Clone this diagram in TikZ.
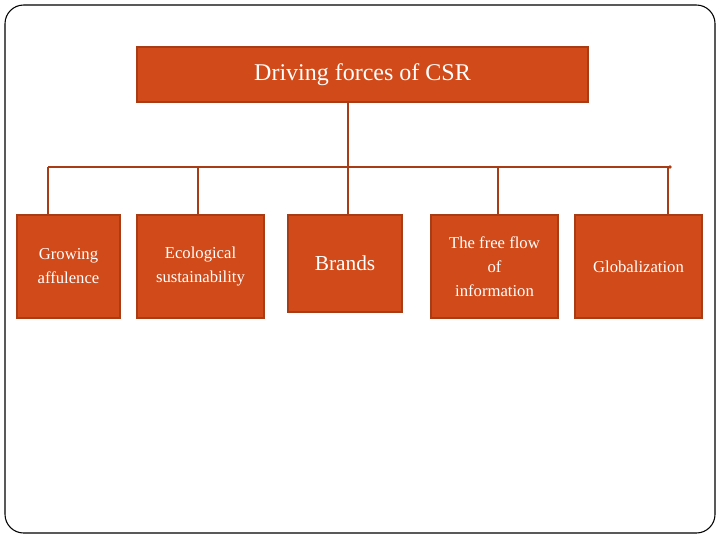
\documentclass[tikz,border=0pt]{standalone}
\usepackage{fontspec}
\setmainfont{Liberation Serif}
\begin{document}
\begin{tikzpicture}[x=0.75pt,y=-0.75pt,
  box/.style={draw=orangebd,fill=orangef,line width=1.2pt,text=white,align=center,inner sep=0pt},
  ln/.style={draw=orangebd,line width=1pt}]
\definecolor{orangef}{HTML}{D14A19}
\definecolor{orangebd}{HTML}{A83C14}
\useasboundingbox (0,0) rectangle (720,540);
\draw[line width=0.8pt,rounded corners=14pt] (5,5) rectangle (715,533);
\node[box,minimum width=451*0.75pt,minimum height=55*0.75pt,font=\fontsize{18}{21}\selectfont] (t) at (362.5,74.5) {Driving forces of CSR};
\node[box,minimum width=103*0.75pt,minimum height=103*0.75pt,font=\fontsize{12.5}{18}\selectfont] (b1) at (68.5,266.5) {Growing\\affulence};
\node[box,minimum width=127*0.75pt,minimum height=103*0.75pt,font=\fontsize{12.5}{18}\selectfont] (b2) at (200.5,266.5) {Ecological\\sustainability};
\node[box,minimum width=114*0.75pt,minimum height=97*0.75pt,font=\fontsize{16}{19}\selectfont] (b3) at (345,263.5) {Brands};
\node[box,minimum width=127*0.75pt,minimum height=103*0.75pt,font=\fontsize{12.5}{18}\selectfont] (b4) at (494.5,266.5) {The free flow\\of\\information};
\node[box,minimum width=127*0.75pt,minimum height=103*0.75pt,font=\fontsize{12.5}{18}\selectfont] (b5) at (638.5,266.5) {Globalization};
\coordinate (j) at (348,167);
\coordinate (l) at (48,167);
\coordinate (r) at (670,167);
\draw[ln] (t.south -| j) -- (j);
\draw[ln] (l) -- (r);
\fill[orangebd] (j) circle (1.8) (r) circle (1.8);
\draw[ln] (l) -- (48,215);
\draw[ln] (198,167) -- (198,215);
\draw[ln] (348,167) -- (348,215);
\draw[ln] (498,167) -- (498,215);
\draw[ln] (668,167) -- (668,215);
\end{tikzpicture}
\end{document}
